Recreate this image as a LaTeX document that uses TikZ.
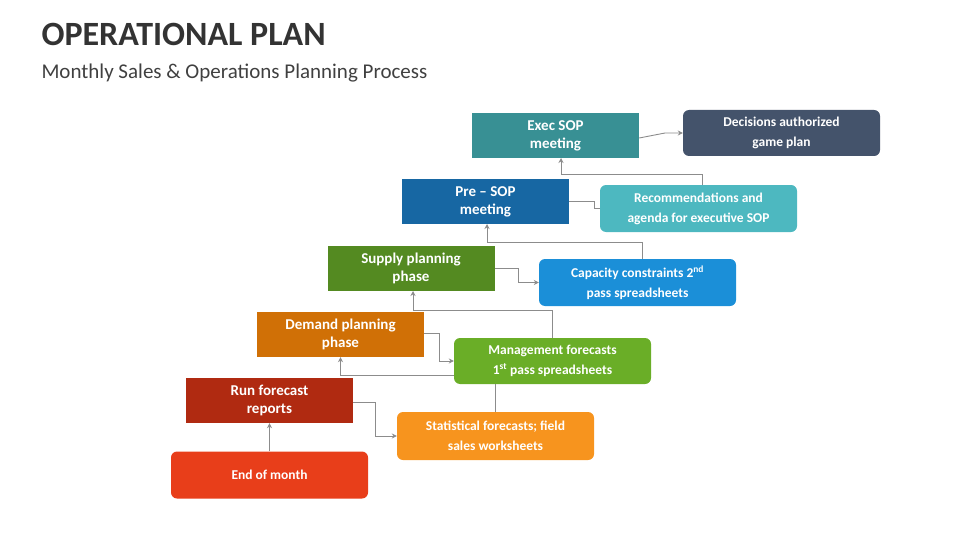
\documentclass[tikz,border=0pt]{standalone}
\usepackage{fontspec}
\setmainfont{Carlito}
\usepackage{xcolor}
\usetikzlibrary{arrows.meta,positioning,calc}

\definecolor{cEnd}{HTML}{E83E1A}
\definecolor{cRun}{HTML}{B02A11}
\definecolor{cStat}{HTML}{F7941E}
\definecolor{cDem}{HTML}{D07006}
\definecolor{cMgmt}{HTML}{6AAE27}
\definecolor{cSup}{HTML}{548A21}
\definecolor{cCap}{HTML}{1B8FD8}
\definecolor{cPre}{HTML}{1767A3}
\definecolor{cRec}{HTML}{4DB8C0}
\definecolor{cExec}{HTML}{389094}
\definecolor{cDec}{HTML}{44536B}
\definecolor{lineg}{HTML}{8C8C8C}

\begin{document}
\begin{tikzpicture}[
    x=1pt, y=-1pt,
    stage/.style={rectangle, text=white, font=\fontsize{15}{18}\selectfont\bfseries, align=center, minimum width=167pt, minimum height=45pt, inner sep=2pt},
    info/.style={rectangle, rounded corners=6pt, text=white, font=\fontsize{13.5}{20}\selectfont\bfseries, align=center, minimum width=197pt, minimum height=46pt, inner sep=2pt},
    link/.style={draw=lineg, line width=0.9pt},
    arrow/.style={link, -{Stealth[length=5pt,width=5pt]}}
]
\useasboundingbox (0,0) rectangle (960,540);

% Title
\node[anchor=west, font=\fontsize{34}{36}\selectfont\bfseries, text=black!80] (title) at (38,34) {OPERATIONAL PLAN};
\node[anchor=west, font=\fontsize{21}{24}\selectfont, text=black!75] (subtitle) at (38,73) {Monthly Sales \& Operations Planning Process};

% Stages
\node[info, fill=cEnd, minimum height=47pt] (endm) at (269.5,475) {End of month};
\node[stage, fill=cRun] (run) at (269.5,400.5) {Run forecast\\reports};
\node[stage, fill=cDem] (demand) at (340.5,334.5) {Demand planning\\phase};
\node[stage, fill=cSup] (supply) at (411,268.5) {Supply planning\\phase};
\node[stage, fill=cPre] (pre) at (485.5,201.5) {Pre -- SOP\\meeting};
\node[stage, fill=cExec] (exec) at (555.5,135.5) {Exec SOP\\meeting};

% Outputs
\node[info, fill=cStat, minimum height=48pt] (stat) at (495.5,436) {Statistical forecasts; field\\sales worksheets};
\node[info, fill=cMgmt] (mgmt) at (552.5,361) {Management forecasts\\1\textsuperscript{st} pass spreadsheets};
\node[info, fill=cCap, minimum height=47pt] (cap) at (637.5,282.5) {Capacity constraints 2\textsuperscript{nd}\\pass spreadsheets};
\node[info, fill=cRec, minimum height=47pt] (rec) at (698.5,208.5) {Recommendations and\\agenda for executive SOP};
\node[info, fill=cDec] (dec) at (781.5,133) {Decisions authorized\\game plan};

% Connectors
\draw[arrow] (endm.north) -- (run.south);
\draw[arrow] ([yshift=-2pt]run.east) -- (375,402.5) |- (stat.west);
\draw[link] (stat.north) -- (stat.north |- mgmt.south);
\draw[arrow] ([yshift=1.5pt]demand.east) -- (439,333) |- (mgmt.west);
\draw[arrow] ([yshift=-14pt]mgmt.west) -| (demand.south);
\draw[arrow] (mgmt.north) |- (413,310) -- (413,291);
\draw[arrow] (supply.east) -- (518,268.5) |- (cap.west);
\draw[arrow] (642,259) |- (487,242) -- (487,224);
\draw[link] (pre.east) -- (594,201.5) |- (rec.west);
\draw[arrow] (702,185) |- (561,174) -- (561,158);
\draw[arrow] ([yshift=-2.5pt]exec.east) -- (665,133) |- (dec.west);

\end{tikzpicture}
\end{document}
